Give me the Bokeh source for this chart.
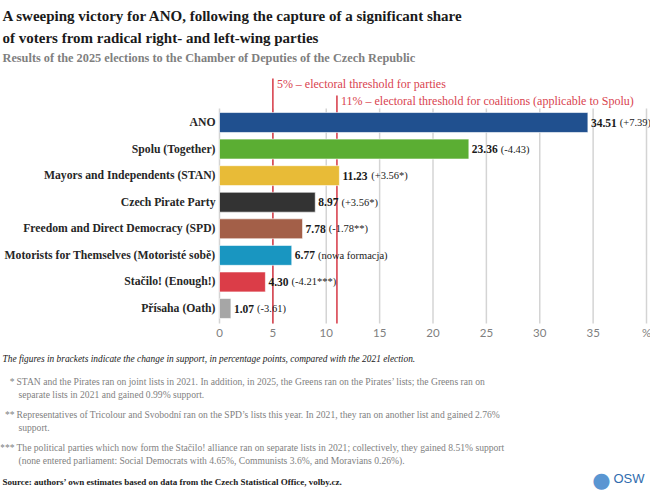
from bokeh.plotting import figure
from bokeh.models import ColumnDataSource, Range1d, Label
from bokeh.core.properties import value
from bokeh.embed import file_html
from bokeh.resources import INLINE

# ---------------- data ----------------
parties = ["ANO", "Spolu (Together)", "Mayors and Independents (STAN)", "Czech Pirate Party",
           "Freedom and Direct Democracy (SPD)", "Motorists for Themselves (Motoristé sobě)",
           "Stačilo! (Enough!)", "Přísaha (Oath)"]
results = [34.51, 23.36, 11.23, 8.97, 7.78, 6.77, 4.30, 1.07]
changes = ["(+7.39)", "(-4.43)", "(+3.56*)", "(+3.56*)", "(-1.78**)", "(nowa formacja)",
           "(-4.21***)", "(-3.61)"]
colors = ["#20508f", "#5bae33", "#e8bb37", "#333333", "#a35f48", "#1996c1", "#db3d48", "#a6a6a6"]
x_ticks = [0, 5, 10, 15, 20, 25, 30, 35, 40]
x_tick_labels = ["0", "5", "10", "15", "20", "25", "30", "35", "%"]
thresholds = [5, 11]
threshold_labels = ["5% – electoral threshold for parties",
                    "11% – electoral threshold for coalitions (applicable to Spolu)"]

title_lines = ["A sweeping victory for ANO, following the capture of a significant share",
               "of voters from radical right- and left-wing parties"]
subtitle = "Results of the 2025 elections to the Chamber of Deputies of the Czech Republic"
note = "The figures in brackets indicate the change in support, in percentage points, compared with the 2021 election."
footnotes = [
    ("*", ["STAN and the Pirates ran on joint lists in 2021. In addition, in 2025, the Greens ran on the Pirates\u2019 lists; the Greens ran on",
           "separate lists in 2021 and gained 0.99% support."]),
    ("**", ["Representatives of Tricolour and Svobodní ran on the SPD\u2019s lists this year. In 2021, they ran on another list and gained 2.76%",
            "support."]),
    ("***", ["The political parties which now form the Stačilo! alliance ran on separate lists in 2021; collectively, they gained 8.51% support",
             "(none entered parliament: Social Democrats with 4.65%, Communists 3.6%, and Moravians 0.26%)."]),
]
source = "Source: authors\u2019 own estimates based on data from the Czech Statistical Office, volby.cz."

# ---------------- layout ----------------
W, H = 650, 499
X0, X40 = 219, 646          # pixel of 0 % and 40 %
YBOT, STEP = 308, 26.57     # pixel of the bottom bar centre, pixels per bar slot
SERIF = "Liberation Serif"
kx = (X40 - X0) / 40.0
n = len(parties)
ys = [n - 1 - i for i in range(n)]
nums = ["%.2f" % v for v in results]


def yd(Y):  # canvas pixel row -> data y
    return (YBOT - Y) / STEP


def num_width(s, size=11.5):
    return sum(size * (0.5 if c.isdigit() else 0.25) for c in s)


offs = [3 + num_width(s) + 3 for s in nums]
src = ColumnDataSource(dict(y=ys, v=results, c=colors, num=nums, chg=changes, off=offs))

p = figure(width=W, height=H, output_backend="svg", toolbar_location=None,
           x_range=Range1d(-X0 / kx, 40 + (W - X40) / kx), y_range=Range1d(yd(H), yd(0)),
           min_border=0)
p.outline_line_color = None
p.background_fill_color = "white"
p.border_fill_color = "white"
p.grid.visible = False
p.axis.visible = False

# grid lines at the x ticks
p.segment(x0=x_ticks, x1=x_ticks, y0=[yd(323)] * len(x_ticks), y1=[yd(108)] * len(x_ticks),
          line_color="#d4d4d4", line_width=1.5)
# tick labels
p.text(x=x_ticks, y=[yd(332)] * len(x_ticks), text=x_tick_labels, text_align="center",
       text_baseline="middle", text_font=value("Lato"), text_font_size="11.5px", text_color="#808080")

# threshold lines (behind the bars)
p.segment(x0=thresholds, x1=thresholds, y0=[yd(323)] * 2, y1=[yd(78), yd(95)],
          line_color="#d9434f", line_width=1.6)
p.text(x=thresholds, y=[yd(83), yd(100)], text=threshold_labels, x_offset=4,
       text_font=value(SERIF), text_font_size="12px", text_color="#d9434f", text_baseline="middle")

# bars
p.hbar(y="y", left=0, right="v", height=0.75, source=src, fill_color="c",
       line_color="white", line_alpha=0.6, line_width=1)

# category labels
p.text(x=[0] * n, y=ys, text=parties, x_offset=-4, text_align="right", text_baseline="middle",
       text_font=value(SERIF), text_font_style="bold", text_font_size="11.7px", text_color="#262626")

# value labels
p.text(x="v", y="y", text="num", x_offset=3, source=src, text_font=value(SERIF),
       text_font_style="bold", text_font_size="11.5px", text_color="#1a1a1a", text_baseline="middle")
p.text(x="v", y="y", text="chg", x_offset="off", source=src, text_font=value(SERIF),
       text_font_size="10.5px", text_color="#1a1a1a", text_baseline="middle")


def lab(text, X, Y, size, color, style="normal", align="left", font=SERIF):
    p.add_layout(Label(x=X, y=H - Y, x_units="screen", y_units="screen", text=text,
                       text_font=font, text_font_size=size, text_color=color,
                       text_font_style=style, text_align=align, text_baseline="middle"))


# titles
lab(title_lines[0], 2, 15, "15px", "#1a1a1a", "bold")
lab(title_lines[1], 2, 37, "15px", "#1a1a1a", "bold")
lab(subtitle, 2, 57, "12.3px", "#7f7f7f", "bold")

# notes
lab(note, 2, 358, "9.4px", "#1a1a1a", "italic")
fy = [381, 414, 447]
for (mark, lines), yy in zip(footnotes, fy):
    lab(mark, 14, yy, "9.6px", "#7f7f7f", align="right")
    for k, line in enumerate(lines):
        lab(line, 16 if k == 0 else 18, yy + 13 * k, "9.6px", "#7f7f7f")
lab(source, 2, 481, "9px", "#1a1a1a", "bold")

# logo
lab("\u25CF", 601, 479, "21px", "#5a96d2", align="center", font="DejaVu Sans")
lab("OSW", 613, 478, "13px", "#2f6cae", font="Liberation Sans")

open("out.html", "w").write(file_html(p, INLINE))
